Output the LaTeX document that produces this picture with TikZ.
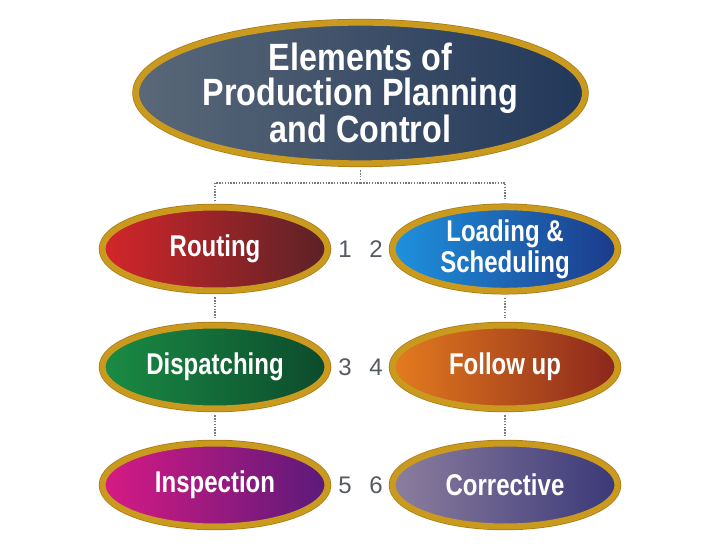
\documentclass[tikz,border=0pt]{standalone}
\usepackage{fontspec}
\usetikzlibrary{shapes.geometric}
\newfontfamily\lblfont{Liberation Sans}[FakeStretch=0.8]
\newfontfamily\ttlfont{Liberation Sans}[FakeStretch=0.85]
\newfontfamily\numfont{Liberation Sans}
\definecolor{gold}{HTML}{C99A1E}
\definecolor{golddk}{HTML}{A87A14}
\definecolor{conncol}{HTML}{7A7A7A}
\definecolor{numcol}{HTML}{555A62}
\definecolor{topL}{HTML}{5A6878}
\definecolor{topR}{HTML}{22385A}
\definecolor{routL}{HTML}{D4262A}
\definecolor{routR}{HTML}{5A2226}
\definecolor{loadL}{HTML}{1E92DE}
\definecolor{loadR}{HTML}{1C3A8A}
\definecolor{dispL}{HTML}{1A8C44}
\definecolor{dispR}{HTML}{0C4A2C}
\definecolor{follL}{HTML}{E47C1E}
\definecolor{follR}{HTML}{8A261C}
\definecolor{inspL}{HTML}{D81A84}
\definecolor{inspR}{HTML}{5A1A7A}
\definecolor{corrL}{HTML}{8C7E9E}
\definecolor{corrR}{HTML}{3A3878}
\tikzset{
  oval/.style={ellipse, inner sep=0pt, draw=gold, line width=6pt,
    preaction={draw=golddk, line width=7.5pt},
    text=white, font=\lblfont\bfseries\fontsize{30}{31}\selectfont, align=center},
  small/.style={oval, minimum width=225pt, minimum height=83pt},
  conn/.style={draw=conncol, line width=1.3pt, dash pattern=on 1.4pt off 1.4pt},
  num/.style={text=numcol, font=\numfont\fontsize{24}{24}\selectfont, inner sep=0pt}
}
\begin{document}
\begin{tikzpicture}[x=1pt,y=1pt]
\useasboundingbox (0,0) rectangle (720,549);
\fill[white] (0,0) rectangle (720,549);
\coordinate (j) at (360.5,366);
\node[small, left color=routL, right color=routR] (routing) at (215,300) {Routing};
\node[small, left color=loadL, right color=loadR] (loading) at (505,300) {Loading \&\\Scheduling};
\node[small, left color=dispL, right color=dispR] (dispatching) at (215,182) {Dispatching};
\node[small, left color=follL, right color=follR] (followup) at (505,182) {Follow up};
\node[small, left color=inspL, right color=inspR] (inspection) at (215,64) {Inspection};
\node[small, left color=corrL, right color=corrR] (corrective) at (505,64) {Corrective};
\node[oval, minimum width=449pt, minimum height=134pt, left color=topL, right color=topR,
  font=\ttlfont\bfseries\fontsize{38}{35}\selectfont] (top) at (360.5,456) {Elements of\\Production Planning\\and Control};
\draw[conn] ([yshift=-4pt]top.south) -- (j);
\draw[conn] (j) -| ([yshift=4pt]routing.north);
\draw[conn] (j) -| ([yshift=4pt]loading.north);
\draw[conn] ([yshift=-4pt]routing.south) -- ([yshift=4pt]dispatching.north);
\draw[conn] ([yshift=-4pt]dispatching.south) -- ([yshift=4pt]inspection.north);
\draw[conn] ([yshift=-4pt]loading.south) -- ([yshift=4pt]followup.north);
\draw[conn] ([yshift=-4pt]followup.south) -- ([yshift=4pt]corrective.north);
\node[num] (n1) at (345,300) {1};
\node[num] (n2) at (376,300) {2};
\node[num] (n3) at (345,182) {3};
\node[num] (n4) at (376,182) {4};
\node[num] (n5) at (345,64) {5};
\node[num] (n6) at (376,64) {6};
\end{tikzpicture}
\end{document}
